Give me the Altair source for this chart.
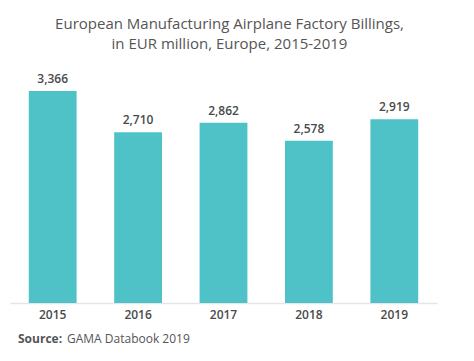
import altair as alt
import pandas as pd

years = ["2015", "2016", "2017", "2018", "2019"]
values = [3366, 2710, 2862, 2578, 2919]
labels = ["3,366", "2,710", "2,862", "2,578", "2,919"]

df = pd.DataFrame({"year": years, "value": values, "label": labels})

FONT = "Open Sans"
BAR = "#4FC2C8"

base = alt.Chart(df)

x = alt.X("year:N", sort=years, title=None,
          scale=alt.Scale(paddingInner=0.44, paddingOuter=0.22),
          axis=alt.Axis(labelAngle=0, labelFont=FONT, labelFontSize=12,
                        labelFontWeight=600, labelColor="#4a4a4a",
                        labelPadding=6, ticks=False, domainColor="#e6e6e6",
                        domainWidth=1.5))
y = alt.Y("value:Q", title=None, scale=alt.Scale(domain=[0, 3700], nice=False),
          axis=None)

bars = base.mark_bar(color=BAR).encode(x=x, y=y)
text = base.mark_text(font=FONT, fontSize=12, fontWeight=600, color="#4a4a4a",
                      baseline="bottom", dy=-5).encode(x=x, y=y, text="label:N")

src1 = alt.Chart(pd.DataFrame({"t": ["Source:"]})).mark_text(
    font=FONT, fontSize=12, fontWeight="bold", color="#555555", align="left", baseline="middle"
).encode(x=alt.value(8), y=alt.value(269), text="t:N")
src2 = alt.Chart(pd.DataFrame({"t": ["GAMA Databook 2019"]})).mark_text(
    font=FONT, fontSize=12, color="#555555", align="left", baseline="middle"
).encode(x=alt.value(57), y=alt.value(269), text="t:N")

chart = alt.layer(bars, text, src1, src2).properties(
    width=427, height=233,
    padding={"left": 2, "top": 62, "right": 29, "bottom": 58},
    autosize=alt.AutoSizeParams(type="none"),
    title=alt.Title(
        ["European Manufacturing Airplane Factory Billings,", "in EUR million, Europe, 2015-2019"],
        font=FONT, fontSize=15, fontWeight="normal", color="#555555",
        anchor="middle", offset=18, lineHeight=20, dx=6
    )
).configure(background="white").configure_view(strokeWidth=0, stroke="transparent")

chart.save("out.html", embed_options={"renderer": "svg", "actions": False})
